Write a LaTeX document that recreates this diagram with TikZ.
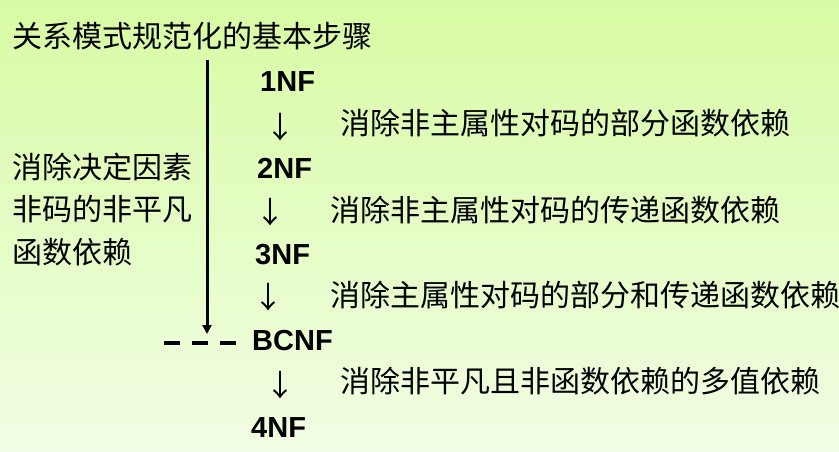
\documentclass[tikz,border=0pt]{standalone}
\usepackage{fontspec}
\setmainfont{Liberation Sans}
\newfontfamily\cjk{Noto Sans CJK SC}
\usetikzlibrary{arrows.meta}
\definecolor{bgtop}{RGB}{216,252,164}
\definecolor{bgbot}{RGB}{241,253,228}
\begin{document}
\begin{tikzpicture}[x=1pt,y=-1pt,
    zh/.style={font=\cjk\fontsize{30}{36}\selectfont,anchor=base west,inner sep=0pt},
    nf/.style={font=\bfseries\fontsize{29}{34}\selectfont,anchor=base west,inner sep=0pt},
    down/.style={font=\cjk\fontsize{30}{36}\selectfont,inner sep=0pt},
    mainarrow/.style={line width=3pt,-{Triangle[length=9pt,width=9pt]}},
    dashline/.style={line width=3.5pt,dash pattern=on 16pt off 12pt}]
  % background
  \shade[top color=bgtop,bottom color=bgbot] (0,0) rectangle (839,452);
  \useasboundingbox (0,0) rectangle (839,452);
  % title
  \node[zh] (title) at (12,48) {关系模式规范化的基本步骤};
  % normal forms
  \node[nf] (nf1) at (260,92) {1NF};
  \node[nf] (nf2) at (257,178) {2NF};
  \node[nf] (nf3) at (255,264) {3NF};
  \node[nf] (bcnf) at (252,350) {BCNF};
  \node[nf] (nf4) at (251,437) {4NF};
  % small arrows
  \node[down] (d1) at (280,127) {↓};
  \node[down] (d2) at (270,212) {↓};
  \node[down] (d3) at (268,297) {↓};
  \node[down] (d4) at (280,385) {↓};
  % steps
  \node[zh] (s1) at (340,135) {消除非主属性对码的部分函数依赖};
  \node[zh] (s2) at (330,221) {消除非主属性对码的传递函数依赖};
  \node[zh] (s3) at (330,306) {消除主属性对码的部分和传递函数依赖};
  \node[zh] (s4) at (340,392) {消除非平凡且非函数依赖的多值依赖};
  % left side
  \node[zh] (l1) at (12,178) {消除决定因素};
  \node[zh] (l2) at (12,220) {非码的非平凡};
  \node[zh] (l3) at (12,263) {函数依赖};
  \coordinate (atop) at (207,60);
  \coordinate (abot) at (207,334);
  \draw[mainarrow] (atop) -- (abot);
  \coordinate (dleft) at (164,343);
  \coordinate (dright) at (240,343);
  \draw[dashline] (dleft) -- (dright);
\end{tikzpicture}
\end{document}
